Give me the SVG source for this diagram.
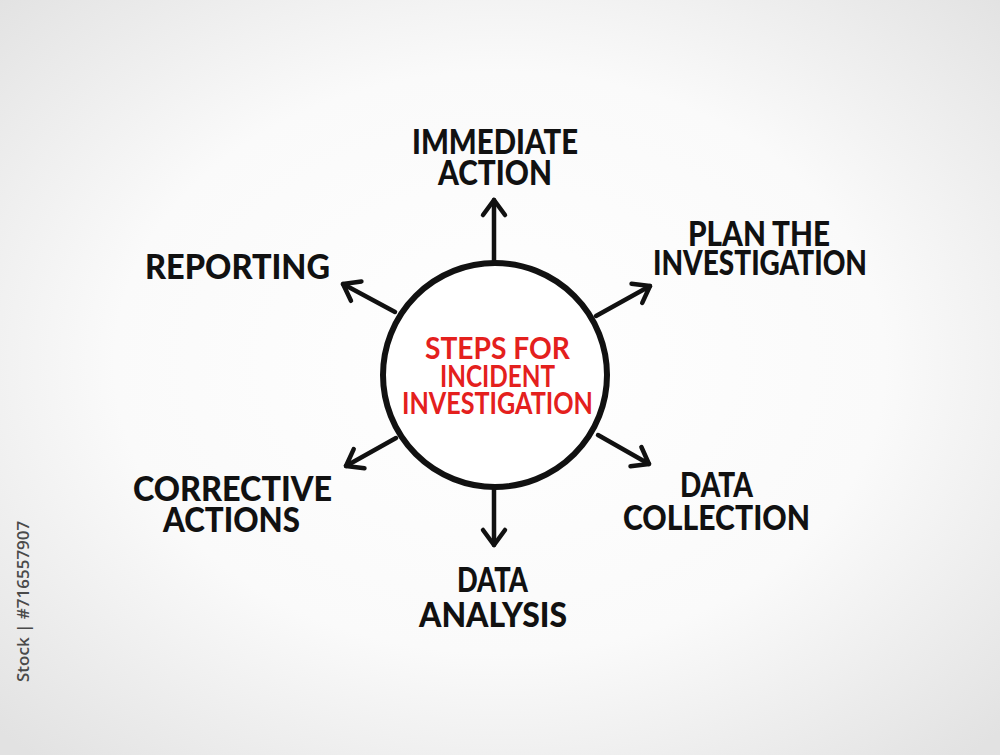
<svg xmlns="http://www.w3.org/2000/svg" width="1000" height="755" viewBox="0 0 1000 755">
  <defs>
    <radialGradient id="bg" cx="50%" cy="48%" r="70%">
      <stop offset="0" stop-color="#ffffff"/>
      <stop offset="0.55" stop-color="#fafafa"/>
      <stop offset="1" stop-color="#e2e2e2"/>
    </radialGradient>
    <marker id="arrow" markerUnits="userSpaceOnUse" markerWidth="40" markerHeight="40" viewBox="-20 -20 40 40" refX="0" refY="0" orient="auto">
      <path d="M-15,-11 L0,0 L-15,11" fill="none" stroke="#111" stroke-width="4.5" stroke-linecap="round" stroke-linejoin="round"/>
    </marker>
    <style>
      .lbl { font-family: "Lato", "Open Sans", "Liberation Sans", sans-serif; font-weight: 900; font-size: 34px; fill: #111; }
      .ctr { font-family: "Lato", "Open Sans", "Liberation Sans", sans-serif; font-weight: 700; font-size: 30px; fill: #e4201d; }
      .conn { fill: none; stroke: #111; stroke-width: 4.5; stroke-linecap: round; marker-end: url(#arrow); }
      .id { font-family: "Open Sans", "Liberation Sans", sans-serif; font-weight: 600; font-size: 17px; fill: #4a4a4a; }
    </style>
  </defs>
  <rect x="0" y="0" width="1000" height="755" fill="url(#bg)"/>

  <g id="connectors">
    <line class="conn" x1="494" y1="261" x2="494" y2="200"/>
    <line class="conn" x1="596" y1="316" x2="650" y2="286"/>
    <line class="conn" x1="598" y1="435" x2="649" y2="464"/>
    <line class="conn" x1="494" y1="489" x2="494" y2="545"/>
    <line class="conn" x1="396" y1="438" x2="346" y2="466"/>
    <line class="conn" x1="395" y1="312" x2="343" y2="284"/>
  </g>

  <g id="center">
    <circle cx="495" cy="375" r="112" fill="#ffffff" stroke="#111" stroke-width="6"/>
    <text class="ctr"><tspan x="425" y="359" textLength="145" lengthAdjust="spacingAndGlyphs">STEPS FOR</tspan><tspan x="440" y="387" textLength="115" lengthAdjust="spacingAndGlyphs">INCIDENT</tspan><tspan x="402" y="414" textLength="191" lengthAdjust="spacingAndGlyphs">INVESTIGATION</tspan></text>
  </g>

  <g id="immediate-action">
    <text class="lbl"><tspan x="412" y="154" textLength="166" lengthAdjust="spacingAndGlyphs">IMMEDIATE</tspan><tspan x="438" y="185" textLength="114" lengthAdjust="spacingAndGlyphs">ACTION</tspan></text>
  </g>

  <g id="plan-the-investigation">
    <text class="lbl"><tspan x="688" y="246" textLength="142" lengthAdjust="spacingAndGlyphs">PLAN THE</tspan><tspan x="653" y="275" textLength="214" lengthAdjust="spacingAndGlyphs">INVESTIGATION</tspan></text>
  </g>

  <g id="data-collection">
    <text class="lbl"><tspan x="680" y="497" textLength="73" lengthAdjust="spacingAndGlyphs">DATA</tspan><tspan x="623" y="530" textLength="187" lengthAdjust="spacingAndGlyphs">COLLECTION</tspan></text>
  </g>

  <g id="data-analysis">
    <text class="lbl"><tspan x="457" y="592" textLength="71" lengthAdjust="spacingAndGlyphs">DATA</tspan><tspan x="419" y="627" textLength="148" lengthAdjust="spacingAndGlyphs">ANALYSIS</tspan></text>
  </g>

  <g id="corrective-actions">
    <text class="lbl"><tspan x="133" y="501" textLength="199" lengthAdjust="spacingAndGlyphs">CORRECTIVE</tspan><tspan x="163" y="532" textLength="137" lengthAdjust="spacingAndGlyphs">ACTIONS</tspan></text>
  </g>

  <g id="reporting">
    <text class="lbl" x="145" y="279" textLength="185" lengthAdjust="spacingAndGlyphs">REPORTING</text>
  </g>

  <text class="id" transform="translate(29,682) rotate(-90)">Stock | #716557907</text>
</svg>
